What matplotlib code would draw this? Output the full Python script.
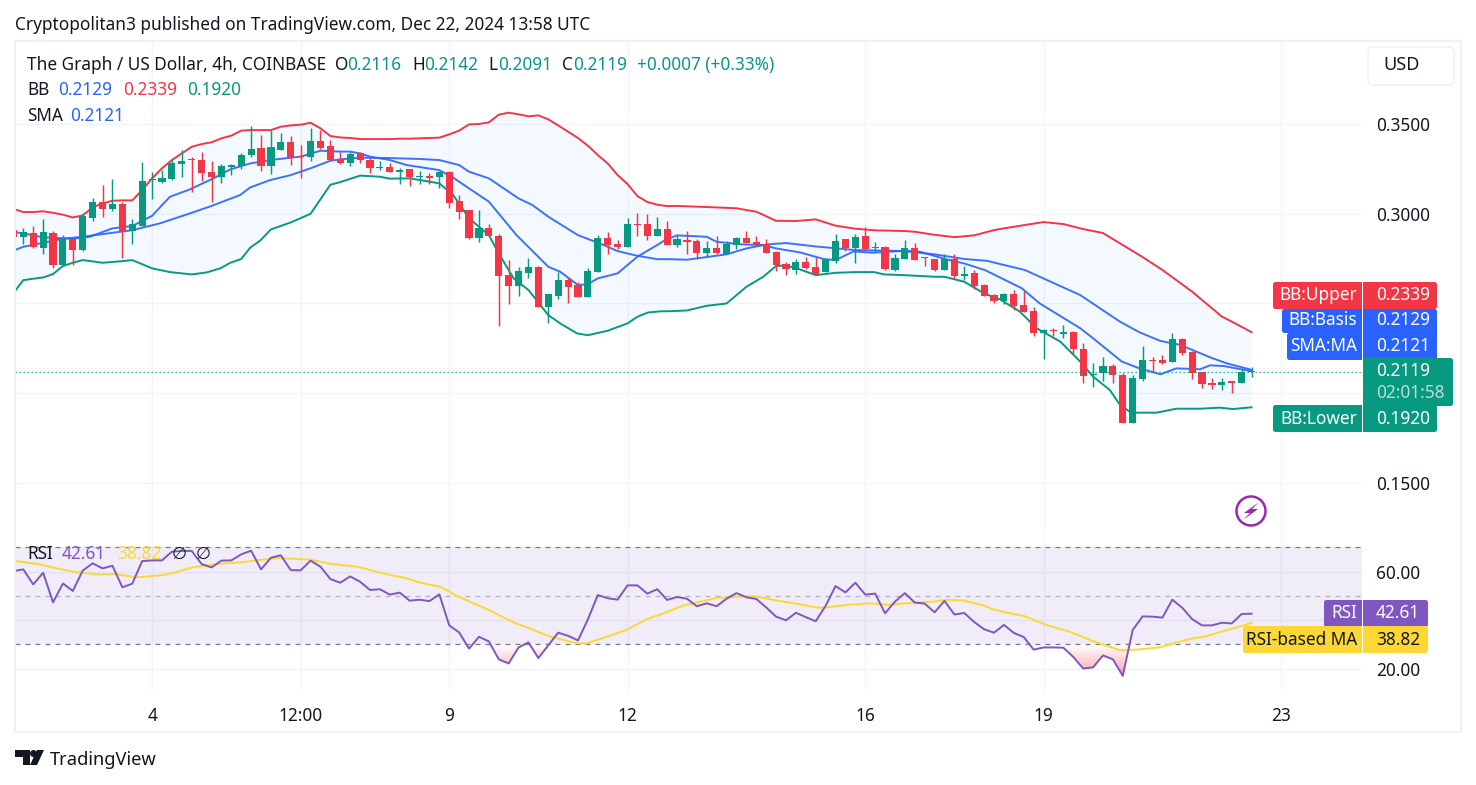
import numpy as np
import matplotlib
matplotlib.use("Agg")
import matplotlib.pyplot as plt
from matplotlib.patches import Circle, FancyBboxPatch, Polygon, Rectangle
from matplotlib.path import Path

W, H = 1476, 785
FONT = ["Noto Sans", "DejaVu Sans"]

GREEN = "#089981"
RED = "#F23645"
BLUE = "#2962FF"
PURPLE = "#7E57C2"
YELLOW = "#FDD835"
TEXT = "#131722"
GRID = "#F0F3FA"

# 4h candles
opens = [
    .2908, .2871, .2890, .2808, .2890, .2713, .2856, .2797, .2975, .3065,
    .3026, .3053, .2903, .2931, .3189, .3178, .3191, .3277, .3301, .3299,
    .3232, .3204, .3260, .3266, .3327, .3366, .3266, .3355, .3399, .3318,
    .3316, .3405, .3377, .3305, .3282, .3338, .3299, .3254, .3260, .3232,
    .3249, .3204, .3210, .3204, .3232, .3070, .3020, .2864, .2920, .2875,
    .2657, .2596, .2668, .2702, .2479, .2540, .2629, .2602, .2535, .2674,
    .2864, .2830, .2814, .2942, .2942, .2875, .2914, .2825, .2853, .2847,
    .2780, .2808, .2775, .2825, .2864, .2841, .2830, .2786, .2719, .2685,
    .2730, .2702, .2674, .2735, .2858, .2808, .2875, .2808, .2814, .2685,
    .2747, .2808, .2758, .2747, .2685, .2747, .2652, .2668, .2602, .2546,
    .2513, .2552, .2491, .2457, .2334, .2351, .2329, .2340, .2245, .2100,
    .2111, .2150, .2100, .1832, .2078, .2184, .2184, .2173, .2301, .2228,
    .2117, .2055, .2044, .2067, .2055, .2116,
]
closes = [
    .2871, .2895, .2815, .2897, .2713, .2860, .2797, .2987, .3065, .3026,
    .3053, .2901, .2942, .3182, .3193, .3199, .3282, .3293, .3297, .3226,
    .3204, .3266, .3271, .3327, .3360, .3266, .3372, .3399, .3316, .3316,
    .3405, .3366, .3299, .3282, .3332, .3299, .3254, .3260, .3232, .3243,
    .3204, .3210, .3199, .3232, .3059, .3009, .2864, .2920, .2875, .2652,
    .2596, .2680, .2702, .2479, .2551, .2629, .2590, .2535, .2680, .2864,
    .2825, .2814, .2942, .2938, .2875, .2914, .2825, .2858, .2841, .2780,
    .2808, .2780, .2830, .2864, .2836, .2825, .2780, .2713, .2691, .2730,
    .2696, .2663, .2741, .2847, .2808, .2869, .2802, .2814, .2691, .2752,
    .2808, .2741, .2752, .2685, .2747, .2652, .2663, .2596, .2540, .2512,
    .2552, .2485, .2452, .2334, .2351, .2347, .2340, .2245, .2095, .2106,
    .2150, .2100, .1832, .2083, .2184, .2178, .2167, .2301, .2223, .2111,
    .2050, .2044, .2061, .2055, .2117, .2119,
]
highs = [
    .2908, .2920, .2931, .2970, .2905, .2879, .2856, .3001, .3085, .3160,
    .3193, .3067, .2970, .3288, .3232, .3243, .3303, .3355, .3316, .3344,
    .3293, .3277, .3277, .3338, .3489, .3438, .3466, .3450, .3433, .3383,
    .3478, .3466, .3411, .3344, .3344, .3344, .3310, .3293, .3282, .3254,
    .3249, .3238, .3226, .3238, .3238, .3104, .3020, .3020, .2942, .2886,
    .2741, .2702, .2752, .2708, .2551, .2674, .2646, .2618, .2696, .2880,
    .2897, .2853, .2975, .3003, .2998, .2981, .2959, .2880, .2903, .2858,
    .2847, .2875, .2847, .2869, .2903, .2875, .2858, .2791, .2730, .2747,
    .2758, .2758, .2747, .2886, .2858, .2886, .2925, .2841, .2819, .2775,
    .2853, .2836, .2758, .2747, .2775, .2775, .2708, .2685, .2607, .2551,
    .2558, .2574, .2569, .2479, .2357, .2362, .2379, .2346, .2279, .2167,
    .2201, .2161, .2111, .2100, .2262, .2201, .2212, .2334, .2307, .2234,
    .2117, .2083, .2083, .2067, .2139, .2142,
]
lows = [
    .2871, .2830, .2810, .2774, .2698, .2708, .2715, .2791, .2960, .2983,
    .3016, .2752, .2830, .2931, .3081, .3173, .3187, .3204, .3120, .3182,
    .3065, .3171, .3215, .3249, .3316, .3238, .3221, .3355, .3271, .3199,
    .3293, .3360, .3293, .3277, .3266, .3282, .3226, .3243, .3232, .3165,
    .3154, .3165, .3165, .3143, .3031, .2970, .2858, .2841, .2875, .2373,
    .2496, .2540, .2641, .2479, .2389, .2523, .2501, .2535, .2535, .2674,
    .2774, .2802, .2814, .2875, .2853, .2875, .2825, .2814, .2775, .2747,
    .2763, .2775, .2775, .2802, .2836, .2825, .2780, .2680, .2657, .2663,
    .2691, .2657, .2674, .2724, .2791, .2724, .2797, .2786, .2685, .2680,
    .2747, .2741, .2708, .2680, .2685, .2635, .2629, .2579, .2540, .2501,
    .2496, .2463, .2452, .2318, .2189, .2318, .2307, .2217, .2055, .2033,
    .2067, .2055, .1832, .1832, .2067, .2117, .2161, .2173, .2212, .2078,
    .2028, .2022, .2016, .2000, .2055, .2091,
]

# Bollinger bands and SMA, read at the points where the lines bend
upper_x = list(range(67)) + [
    67, 70, 73, 74, 75, 77, 79, 81, 83, 85, 87, 90, 91, 93, 95, 97, 99, 100,
    104, 106, 108, 110, 112, 114, 116, 119, 122, 123, 125,
]
upper_y = [
    .3027, .3009, .3009, .3013, .3005, .2994, .2979, .2990, .3035, .3057,
    .3072, .3074, .3074, .3132, .3197, .3253, .3299, .3336, .3373, .3388,
    .3398, .3420, .3435, .3463, .3466, .3466, .3466, .3485, .3492, .3496,
    .3507, .3476, .3433, .3425, .3422, .3416, .3416, .3416, .3416, .3418,
    .3418, .3420, .3422, .3424, .3442, .3463, .3498, .3500, .3509, .3552,
    .3563, .3554, .3543, .3548, .3526, .3492, .3457, .3422, .3379, .3327,
    .3280, .3215, .3165, .3098, .3065, .3050, .3042,
    .3043, .3037, .3030, .3020, .3011, .2960, .2959, .2968, .2933, .2916,
    .2907, .2903, .2899, .2882, .2869, .2879, .2908, .2918, .2953, .2942,
    .2914, .2892, .2825, .2758, .2686, .2565, .2426, .2398, .2339,
]
basis_x = [
    .15, 1, 5, 7, 12, 14.8, 17.8, 19.8, 22.9, 23.9, 25.9, 28, 30, 32, 33,
    35, 38, 41, 43, 45, 46, 48, 51, 52.4, 54, 57, 59.6, 61, 63, 65, 66.3,
    68, 72, 74, 76, 78, 81, 85, 89.9, 93, 96, 98.3, 99.6,
    102.1, 107.7, 111.7, 113.7, 115.8, 117.8, 120.8, 122.5, 125,
]
basis_y = [
    .2797, .2815, .2860, .2871, .2908, .2946, .3001, .3039, .3104, .3146,
    .3187, .3215, .3253, .3295, .3303,
    .3312, .3310, .3305, .3299, .3271, .3234, .3197, .3085, .3048, .2983,
    .2880, .2825, .2791, .2765, .2746, .2746,
    .2743, .2773, .2806, .2828, .2836, .2817, .2797, .2791, .2773, .2747,
    .2737, .2719,
    .2686, .2546, .2398, .2338, .2290, .2268, .2199, .2165, .2129,
]
lower_x = [
    .15, 1, 2, 3, 4, 5, 6, 7, 9, 11, 12, 14, 15.8, 18, 19.5, 20.9, 21.9, 23,
    23.9, 24.9, 26, 28, 30, 32, 33,
    35, 37, 38, 40, 43, 44.4, 46, 48, 49, 50.5, 52, 54, 55.2, 56.9, 58, 60,
    62, 63, 64.1, 65.3, 66.3,
    68, 70, 72, 74, 75.7, 77, 78, 79.1, 81, 83, 85, 86.9, 87.9, 89.9, 93, 94,
    96, 98, 99.6,
    101.6, 103.3, 105.7, 107.7, 109, 110.7, 111.6, 112.6, 113.4, 115.4,
    117.4, 119.8, 121.8, 123.1, 125,
]
lower_y = [
    .2568, .2629, .2637, .2644, .2663, .2708, .2726, .2741, .2726, .2735,
    .2741, .2695, .2674, .2661, .2672, .2695, .2726, .2747, .2810, .2849,
    .2912, .2951, .2999, .3161, .3176,
    .3212, .3206, .3195, .3197, .3169, .3104, .2974, .2880, .2778, .2639,
    .2574, .2434, .2388, .2332, .2322, .2347, .2388, .2425, .2449, .2455,
    .2456,
    .2460, .2486, .2499, .2592, .2648, .2708, .2711, .2695, .2657, .2670,
    .2674, .2674, .2661, .2657, .2648, .2648, .2620, .2555, .2522,
    .2454, .2361, .2286, .2175, .2091, .2016, .1942, .1899, .1890, .1890,
    .1912, .1912, .1918, .1910, .1920,
]
sma_x = [
    .15, 1, 3, 6, 7.7, 10, 12, 14, 15.8, 17.8, 20.2, 21.9, 23.9, 25.9, 29, 31,
    33, 34, 35, 36, 38, 39.7, 43, 44.5, 46, 48, 50.8, 54, 55.2, 57, 58, 59,
    61, 63, 65, 65.8, 67, 70, 71, 73.7, 75.7, 77, 79.4, 81.8, 83, 84.8, 86.8,
    89.9, 91.5, 94.2, 96, 98.1, 99.6, 101.8, 103.6, 107.7, 109, 111.9, 113.7,
    115.8, 117.4, 119.8, 120.8, 122.2, 125,
]
sma_y = [
    .2897, .2890, .2868, .2860, .2871, .2918, .2931, .2988, .3094, .3135,
    .3197, .3247, .3280, .3299, .3318, .3351, .3346,
    .3346, .3336, .3318, .3299, .3271, .3243, .3197, .3141, .3067, .2880,
    .2704, .2676, .2602, .2607, .2639, .2667, .2760, .2825, .2853,
    .2879, .2871, .2843, .2828, .2825, .2806, .2784, .2747, .2741, .2789,
    .2782, .2793, .2788, .2745, .2722, .2685, .2644,
    .2584, .2500, .2361, .2305, .2175, .2137, .2104, .2137, .2132, .2154,
    .2150, .2121,
]

rsi = [
    60.2, 60.9, 54.7, 59.5, 47.3, 55.1, 52.0, 60.4, 63.4, 61.3,
    62.4, 53.5, 55.0, 64.3, 64.6, 64.6, 68.2, 68.5, 68.5, 63.1,
    61.7, 64.5, 64.6, 67.1, 68.6, 60.9, 65.7, 66.7, 60.6, 60.5,
    64.5, 62.0, 56.9, 55.4, 58.0, 55.8, 52.4, 52.7, 50.5, 51.3,
    48.0, 48.4, 47.8, 50.6, 37.8, 34.9, 28.2, 33.1, 31.2, 23.8,
    22.1, 28.7, 30.8, 24.3, 29.6, 34.8, 33.5, 31.6, 40.3, 50.3,
    49.0, 48.4, 54.3, 54.3, 50.9, 52.7, 48.3, 49.5, 48.8, 45.7,
    46.9, 45.7, 48.8, 51.1, 49.4, 48.7, 45.2, 41.4, 39.9, 43.0,
    41.2, 39.5, 45.9, 54.0, 51.4, 55.4, 50.5, 50.9, 42.8, 47.6,
    51.1, 47.2, 46.8, 43.2, 47.9, 42.3, 42.9, 39.2, 36.2, 34.8,
    38.0, 34.7, 33.0, 27.8, 28.7, 28.7, 28.6, 24.8, 20.0, 20.5,
    25.4, 23.8, 17.0, 35.9, 41.5, 41.4, 41.0, 48.4, 45.1, 40.4,
    37.8, 37.8, 38.9, 38.6, 42.5, 42.61,
]
rsi_ma_x = [
    .16, 2.7, 4, 6.7, 8.7, 10.1, 12.6, 15.1, 16.2, 18, 20.5, 23.2, 26.6, 30,
    32, 34.7, 38, 39.4, 41.1, 42.1,
    43.1, 44.6, 45.9, 47.9, 49.1, 50.8, 52, 54, 56.9, 57.9, 61.9, 63.9, 65.8,
    67.6, 71, 73, 74.8, 77.3, 79, 81, 81.8, 84.3,
    86.5, 88.2, 91.7, 92.9, 94.2, 95.9, 97.9, 98.9, 101, 102, 104.3, 106.7,
    109, 111.7, 113.4, 115.8, 116.8, 119.1, 120.2, 125,
]
rsi_ma_y = [
    64.4, 63.0, 61.6, 59.5, 58.8, 59.0, 57.6, 58.6, 59.5, 61.7, 63.1, 63.9,
    65.6, 64.9, 63.2, 62.0, 58.6, 57.5, 55.4, 54.5,
    53.8, 50.3, 47.9, 44.4, 41.8, 38.5, 36.8, 33.4, 30.4, 30.4, 35.9, 40.3,
    43.0, 46.0, 49.1, 49.6, 49.8, 47.9, 46.8, 45.2, 45.1, 46.3,
    46.9, 46.3, 47.4, 47.6, 48.3, 48.1, 46.1, 44.4, 42.5, 41.7, 38.0, 35.1,
    31.3, 27.6, 27.8, 28.8, 30.1, 32.5, 33.1, 38.82,
]

price_ticks = [.15, .20, .25, .30, .35]
price_labels = ["0.1500", "", "", "0.3000", "0.3500"]
rsi_ticks = [20, 40, 60]
rsi_labels = ["20.00", "", "60.00"]
time_ticks = [14, 29, 44, 62, 86, 104, 128]
time_labels = ["4", "12:00", "9", "12", "16", "19", "23"]
last_price = 0.2119


def pane(x0, y0, x1, y1):
    # rectangle given in image pixels
    a = fig.add_axes([x0 / W, 1 - y1 / H, (x1 - x0) / W, (y1 - y0) / H])
    for s in a.spines.values():
        s.set_visible(False)
    a.patch.set_alpha(0)
    a.grid(True, color=GRID, lw=1)
    a.set_axisbelow(True)
    a.yaxis.tick_right()
    a.tick_params(length=0, labelsize=12.4, labelcolor=TEXT)
    a.tick_params(axis="y", pad=10)
    return a


def put(x, y, s, color=TEXT, size=12.4, **kw):
    ov.text(x, y + 2, s, color=color, fontsize=size, va="center", family=FONT, **kw)


def tag(x0, y0, x1, y1, color, square):
    # rounded box with one square side where the name meets the value
    r = 2.5
    ov.add_patch(FancyBboxPatch((x0 + r, y0 + r), x1 - x0 - 2 * r, y1 - y0 - 2 * r,
                                boxstyle=f"round,pad={r},rounding_size={r}",
                                fc=color, ec="none"))
    if square == "right":
        ov.add_patch(Rectangle((x1 - 2 * r, y0), 2 * r, y1 - y0, fc=color, ec="none"))
    elif square == "left":
        ov.add_patch(Rectangle((x0, y0), 2 * r, y1 - y0, fc=color, ec="none"))


plt.rcParams["font.family"] = FONT
fig = plt.figure(figsize=(W / 100, H / 100), dpi=100)

x_range = (0.1615, 136.15)

# price pane
ax = pane(15, 42, 1362, 530)
ax.set_xlim(*x_range)
ax.set_ylim(0.35 - 406 / 1793, 0.35 + 82 / 1793)
ax.set_yticks(price_ticks, price_labels)
ax.set_xticks(time_ticks, [""] * len(time_ticks))

ax.fill(list(upper_x) + list(lower_x)[::-1], list(upper_y) + list(lower_y)[::-1],
        color="#2196F3", alpha=0.05, lw=0, zorder=1)
ax.plot(upper_x, upper_y, color=RED, lw=1.4, zorder=2)
ax.plot(lower_x, lower_y, color=GREEN, lw=1.4, zorder=2)
ax.plot(basis_x, basis_y, color=BLUE, lw=1.4, alpha=0.9, zorder=2)
ax.plot(sma_x, sma_y, color=BLUE, lw=1.4, alpha=0.9, zorder=2)

idx = np.arange(len(opens))
o = np.array(opens)
c = np.array(closes)
colors = [GREEN if b >= a else RED for a, b in zip(o, c)]
ax.vlines(idx, lows, highs, colors=colors, lw=1.05, zorder=3)
ax.bar(idx, np.maximum(np.abs(c - o), 0.0006), bottom=np.minimum(o, c), width=0.72,
       color=colors, lw=0, zorder=4)
ax.plot([x_range[0], x_range[1]], [last_price, last_price], color=GREEN, lw=0.9,
        dashes=(1, 2.2), zorder=5)

# rsi pane
ax2 = pane(15, 531, 1362, 690)
ax2.set_xlim(*x_range)
ax2.set_ylim(70 - (690 - 547.3) / 2.425, 70 + (547.3 - 531) / 2.425)
ax2.set_yticks(rsi_ticks, rsi_labels)
ax2.set_xticks(time_ticks, time_labels)
ax2.tick_params(axis="x", pad=12.5)

ax2.axhspan(30, 70, color=PURPLE, alpha=0.11, lw=0, zorder=1)
for level, col in [(70, "#787B86"), (50, "#B2B5BE"), (30, "#787B86")]:
    ax2.axhline(level, color=col, lw=0.9, dashes=(4, 4), zorder=2)

# pink fade below the oversold line
r = np.array(rsi)
under = ax2.fill_between(idx, r, 30, where=r < 30, interpolate=True, color="none", lw=0)
fade = np.zeros((64, 2, 4))
fade[..., :3] = matplotlib.colors.to_rgb(RED)
fade[..., 3] = np.linspace(0, 0.45, 64)[:, None]
im = ax2.imshow(fade, extent=(x_range[0], x_range[1], 17, 30), aspect="auto",
                origin="upper", zorder=2, interpolation="bilinear")
im.set_clip_path(Path.make_compound_path(*under.get_paths()), ax2.transData)
ax2.set_xlim(*x_range)
ax2.set_ylim(70 - (690 - 547.3) / 2.425, 70 + (547.3 - 531) / 2.425)

ax2.plot(rsi_ma_x, rsi_ma_y, color=YELLOW, lw=1.4, zorder=3)
ax2.plot(idx, rsi, color=PURPLE, lw=1.4, zorder=4)

# everything below sits on a full size layer in image pixels
ov = fig.add_axes([0, 0, 1, 1], zorder=10)
ov.set_xlim(0, W)
ov.set_ylim(H, 0)
ov.axis("off")

ov.add_patch(Rectangle((15, 41), 1446, 691, fc="none", ec="#EFF0F5", lw=1.5))
put(15, 23, "Cryptopolitan3 published on TradingView.com, Dec 22, 2024 13:58 UTC")

put(27, 63, "The Graph / US Dollar, 4h, COINBASE")
for x, s, col in [(335, "O", TEXT), (347, "0.2116", GREEN), (412, "H", TEXT),
                  (424, "0.2142", GREEN), (488, "L", TEXT), (498, "0.2091", GREEN),
                  (562, "C", TEXT), (573, "0.2119", GREEN),
                  (637, "+0.0007 (+0.33%)", GREEN)]:
    put(x, 63, s, col)
for x, s, col in [(27, "BB", TEXT), (58, "0.2129", BLUE), (123, "0.2339", RED),
                  (187, "0.1920", GREEN)]:
    put(x, 88, s, col)
put(27, 114, "SMA")
put(70, 114, "0.2121", BLUE)
for x, s, col in [(27, "RSI", TEXT), (62, "42.61", PURPLE), (117, "38.82", YELLOW),
                  (172, "\u2205", TEXT), (196, "\u2205", TEXT)]:
    put(x, 552, s, col)

# USD button
ov.add_patch(FancyBboxPatch((1372, 51), 78, 30, boxstyle="round,pad=4,rounding_size=5",
                            fc="white", ec="#EFF0F5", lw=1))
put(1383, 63, "USD", size=13)

# scale tags
tag(1273, 282, 1362, 309, RED, "right")
tag(1363, 282, 1437, 309, RED, "left")
tag(1282, 309, 1362, 333, BLUE, "right")
tag(1287, 333, 1362, 360, BLUE, "right")
tag(1363, 309, 1437, 360, BLUE, "left")
tag(1363, 358, 1453, 406, GREEN, "left")
tag(1273, 405, 1362, 432, GREEN, "right")
tag(1363, 405, 1437, 432, GREEN, "left")
tag(1324, 600, 1362, 627, PURPLE, "right")
tag(1363, 600, 1428, 627, PURPLE, "left")
tag(1243, 626, 1362, 653, YELLOW, "right")
tag(1363, 626, 1428, 653, YELLOW, "left")

for y, s in [(293, "BB:Upper"), (318, "BB:Basis"), (344, "SMA:MA"), (417, "BB:Lower"),
             (611, "RSI")]:
    put(1357, y, s, "white", ha="right")
put(1357, 638, "RSI-based MA", TEXT, ha="right")
for y, s in [(293, "0.2339"), (318, "0.2129"), (344, "0.2121"), (369, "0.2119"),
             (417, "0.1920"), (611, "42.61")]:
    put(1376, y, s, "white")
put(1376, 391, "02:01:58", "#B5E0D9")
put(1376, 638, "38.82", TEXT)

# lightning badge
ov.add_patch(Circle((1251, 511), 14.5, fc="white", ec="#9C27B0", lw=1.8))
ov.add_patch(Polygon([(1259, 502), (1244, 513), (1250, 513), (1243, 520), (1258, 509),
                      (1252, 509)], fc="#9C27B0", ec="none"))

# TradingView logo
ov.add_patch(Polygon([(15, 750), (30, 750), (30, 765), (23, 765), (23, 757), (15, 757)],
                     fc=TEXT, ec="none"))
ov.add_patch(Circle((33.5, 753.5), 3.5, fc=TEXT, ec="none"))
ov.add_patch(Polygon([(37, 750), (44, 750), (37, 765), (30, 765)], fc=TEXT, ec="none"))
put(50, 758, "TradingView", size=13.2)

fig.savefig("out.png", dpi=100)
